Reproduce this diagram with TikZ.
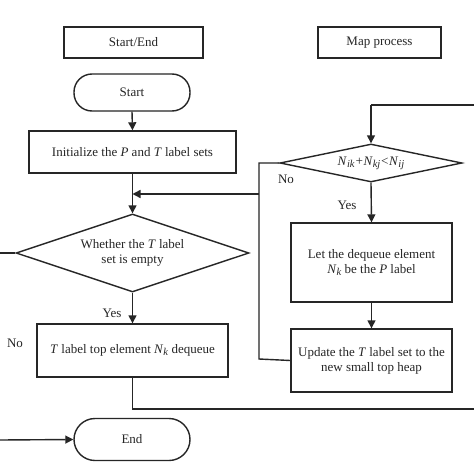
\documentclass[tikz,border=0pt]{standalone}
\usepackage{fontspec}
\setmainfont{Liberation Serif}
\usetikzlibrary{arrows.meta,shapes.geometric}
\newcommand{\mysub}[1]{\raisebox{-2pt}{\fontsize{10.5}{10.5}\selectfont\textit{#1}}}
\begin{document}
\begin{tikzpicture}[x=1pt,y=-1pt,
  every node/.style={font=\fontsize{13}{15}\selectfont, text=black!85},
  line/.style={draw=black!85, line width=1.4pt},
  arr/.style={line, -{Triangle[length=8pt,width=8pt]}},
  box/.style={line, rectangle, inner sep=0pt, align=center},
  term/.style={line, rectangle, rounded corners=18pt, inner sep=0pt},
  dec/.style={line, diamond, inner sep=0pt, align=center, aspect=4},
  lbl/.style={inner sep=0pt}]
\useasboundingbox (0,0) rectangle (474,474);
\fill[white] (0,0) rectangle (474,474);
% legend
\node[box, minimum width=139pt, minimum height=31pt] (lega) at (133.5,42.5) {Start/End};
\node[box, minimum width=123pt, minimum height=31pt] (legb) at (379.5,42.5) {Map process};
% main column
\node[term, minimum width=116pt, minimum height=37pt] (start) at (132,92.5) {Start};
\node[box, minimum width=207pt, minimum height=42pt] (init) at (132.5,152) {Initialize the \textit{P} and \textit{T} label sets};
\node[dec, minimum width=233pt, minimum height=78pt] (dec1) at (132.5,253) {Whether the \textit{T} label\\set is empty};
\node[box, minimum width=191pt, minimum height=53pt] (tdeq) at (132.5,350.5) {\textit{T} label top element \textit{N}\mysub{k} dequeue};
\node[term, rounded corners=21pt, minimum width=116pt, minimum height=42pt] (end) at (132,439.5) {End};
% right column
\node[dec, minimum width=182pt, minimum height=38pt] (dec2) at (371,163) {\textit{N}\mysub{ik}\textit{+N}\mysub{kj}\textit{<N}\mysub{ij}};
\node[box, minimum width=161pt, minimum height=79pt] (let) at (371.5,262.5) {Let the dequeue element\\\textit{N}\mysub{k} be the \textit{P} label};
\node[box, minimum width=161pt, minimum height=63pt] (upd) at (371.5,360.5) {Update the \textit{T} label set to the\\new small top heap};
% coordinates
\coordinate (topin) at (474,105);
\coordinate (topbend) at (371,105);
\coordinate (n1) at (259,163);
\coordinate (n2) at (259,359);
\coordinate (nj) at (259,194);
\coordinate (mj) at (132.5,194);
\coordinate (leftout) at (0,253);
\coordinate (b1) at (132.5,409);
\coordinate (b2) at (474,409);
\coordinate (endin) at (0,440);
% connectors
\draw[arr] (start.south) -- (init.north);
\draw[line] (init.south) -- (dec1.north);
\draw[arr] (nj) -- (mj);
\draw[arr] (mj) -- (dec1.north);
\draw[line] (topin) -- (topbend);
\draw[arr] (topbend) -- (dec2.north);
\draw[line] (dec2.west) -- (n1) -- (n2) -- (upd.west);
\draw[arr] (dec2.south) -- (let.north);
\draw[arr] (let.south) -- (upd.north);
\draw[arr] (dec1.south) -- (tdeq.north);
\draw[line] (dec1.west) -- (leftout);
\draw[line] (tdeq.south) -- (b1) -- (b2);
\draw[arr] (endin) -- (end.west);
% labels
\node[lbl] (no2) at (286,179) {No};
\node[lbl] (yes2) at (347,205) {Yes};
\node[lbl] (yes1) at (112,313) {Yes};
\node[lbl] (no1) at (15,343) {No};
\end{tikzpicture}
\end{document}
